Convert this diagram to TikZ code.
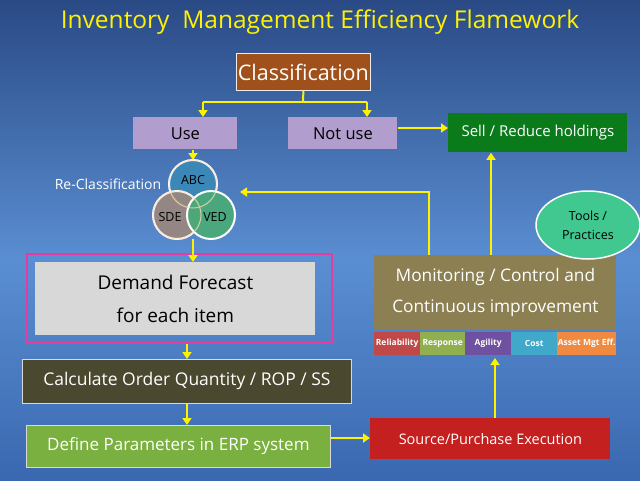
\documentclass[tikz,border=0pt]{standalone}
\usepackage{fontspec}
\setmainfont{Open Sans}
\usetikzlibrary{arrows.meta,shapes.geometric}
\definecolor{bgtop}{HTML}{2A4A85}
\definecolor{bgmid}{HTML}{5A8ED2}
\definecolor{bgbot}{HTML}{3A68B0}
\begin{document}
\begin{tikzpicture}[x=1pt,y=-1pt,
  box/.style={draw=white!85!gray,line width=0.8pt,minimum width=#1,inner sep=0pt,anchor=north west},
  arr/.style={yellow,line width=2pt,-{Triangle[length=7pt,width=9pt]}},
  ln/.style={yellow,line width=2pt},
  met/.style={font=\fontsize{8.5}{9}\selectfont\bfseries,text=white,anchor=north west,inner sep=0pt,minimum height=23pt}]
\useasboundingbox (0,0) rectangle (640,480);
\shade[top color=bgtop,bottom color=bgmid] (0,0) rectangle (640,260);
\shade[top color=bgmid,bottom color=bgbot] (0,260) rectangle (640,480);
\node (title) at (320,22) {\color{yellow}\fontsize{24.5}{28}\selectfont Inventory\ \ Management Efficiency Flamework};
\node[box=134pt,minimum height=37pt,fill={rgb,255:red,160;green,80;blue,26},text=white,font=\fontsize{21.5}{24}\selectfont] (cls) at (236,53) {Classification};
\node[box=104pt,minimum height=32pt,fill={rgb,255:red,178;green,158;blue,206},draw=none,font=\fontsize{16.5}{18}\selectfont] (use) at (133,117) {Use};
\node[box=109pt,minimum height=32pt,fill={rgb,255:red,178;green,158;blue,206},draw=none,font=\fontsize{16.5}{18}\selectfont] (nuse) at (288,117) {Not use};
\node[box=179pt,minimum height=39pt,fill={rgb,255:red,10;green,122;blue,26},draw=none,text=white,font=\fontsize{15}{17}\selectfont] (sell) at (448,113) {Sell / Reduce holdings};
\draw[ln] (cls.south) -- (303,102) coordinate (sp);
\draw[ln] (203,102) -- (367,102);
\draw[arr] (203,102) -- (use.north -| 203,0);
\draw[arr] (367,102) -- (nuse.north -| 367,0);
\draw[arr] (nuse.east |- 0,128) -- (sell.west |- 0,128);
% circles
\begin{scope}[draw=white,line width=2pt,fill opacity=0.92]
\filldraw[fill={rgb,255:red,58;green,138;blue,184}] (193,184) circle (24);
\filldraw[fill={rgb,255:red,154;green,136;blue,126}] (177,215) circle (24);
\filldraw[fill={rgb,255:red,74;green,170;blue,120}] (211,215) circle (24);
\end{scope}
\draw[white!70!orange,line width=1pt,opacity=0.7] (193,184) circle (24) (177,215) circle (24);
\node (abc) at (193,180) {\fontsize{12.5}{14}\selectfont ABC};
\node (sde) at (170,217) {\fontsize{12.5}{14}\selectfont SDE};
\node (ved) at (215,217) {\fontsize{12.5}{14}\selectfont VED};
\node[text=white,font=\fontsize{14}{16}\selectfont] (recl) at (108,184) {Re-Classification};
\coordinate (abctop) at (193,160);
\draw[arr] (use.south -| 193,0) -- (abctop);
% demand
\node[box=305pt,minimum height=89pt,draw={rgb,255:red,230;green,60;blue,160},line width=1.5pt] (frame) at (26,253) {};
\node[box=280pt,minimum height=73pt,fill={rgb,255:red,216;green,216;blue,216},draw=none,align=center,font=\fontsize{19}{33}\selectfont] (dem) at (35,262) {Demand Forecast\\for each item};
\draw[arr] (193,239) -- (193,262);
\node[box=329pt,minimum height=44pt,fill={rgb,255:red,74;green,72;blue,46},draw=white!70!gray,text=white,font=\fontsize{17.5}{20}\selectfont] (calc) at (22,359) {Calculate Order Quantity / ROP / SS};
\draw[arr] (frame.south -| 187,0) -- (calc.north -| 187,0);
\node[box=304pt,minimum height=42pt,fill={rgb,255:red,122;green,176;blue,64},draw=white!70!gray,text=white,font=\fontsize{17}{20}\selectfont] (def) at (26,425) {Define Parameters in ERP system};
\draw[arr] (calc.south -| 187,0) -- (def.north -| 187,0);
\node[box=240pt,minimum height=41pt,fill={rgb,255:red,196;green,32;blue,32},draw=none,text=white,font=\fontsize{14.5}{17}\selectfont] (src) at (370,418) {Source/Purchase Execution};
\draw[arr] (def.east |- 0,438) -- (src.west |- 0,438);
% monitoring
\node[box=242pt,minimum height=75pt,fill={rgb,255:red,140;green,128;blue,82},draw=none,text=white,align=center,font=\fontsize{17.3}{31}\selectfont] (mon) at (374,255) {Monitoring / Control and\\Continuous improvement};
\node[met,minimum width=46pt,fill={rgb,255:red,192;green,72;blue,72}] (m1) at (374,332) {Reliability};
\node[met,minimum width=45pt,fill={rgb,255:red,144;green,176;blue,80}] (m2) at (420,332) {Response};
\node[met,minimum width=46pt,fill={rgb,255:red,112;green,80;blue,160}] (m3) at (465,332) {Agility};
\node[met,minimum width=46pt,fill={rgb,255:red,64;green,168;blue,200}] (m4) at (511,332) {Cost};
\node[met,minimum width=59pt,fill={rgb,255:red,240;green,138;blue,64}] (m5) at (557,332) {Asset Mgt Eff.};
\draw[arr] (src.north -| 495,0) -- (495,358);
\draw[arr] (mon.north -| 429,0) -- (429,192) -- (240,192);
\draw[arr] (mon.north -| 491,0) -- (sell.south -| 491,0);
\node[ellipse,draw=white,line width=1.5pt,fill={rgb,255:red,64;green,200;blue,144},minimum width=104pt,minimum height=68pt,align=center,font=\fontsize{12.5}{19}\selectfont,inner sep=0pt] (tools) at (588,225) {Tools /\\Practices};
\end{tikzpicture}
\end{document}
